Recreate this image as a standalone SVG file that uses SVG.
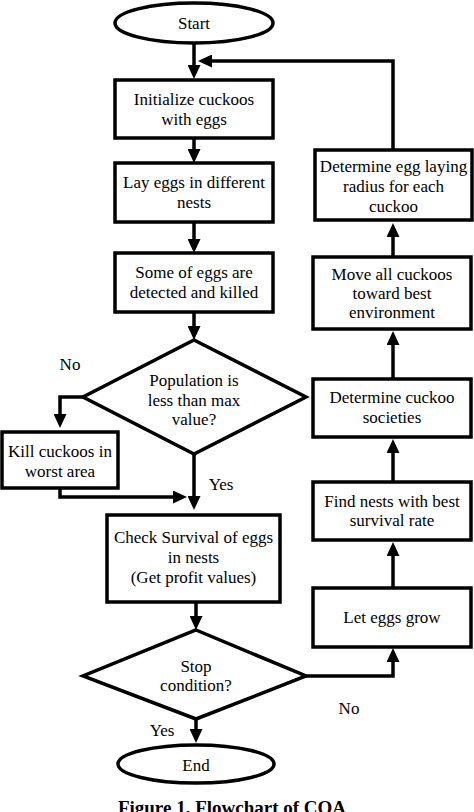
<svg xmlns="http://www.w3.org/2000/svg" width="474" height="812" viewBox="0 0 474 812" font-family="'Liberation Serif', 'Times New Roman', Times, 'DejaVu Serif', serif">
<style>
.n{fill:#fff;stroke:#000;stroke-width:3.5}
.c{fill:none;stroke:#000;stroke-width:3.5;marker-end:url(#ah)}
text{font-family:'Liberation Serif', 'Times New Roman', Times, 'DejaVu Serif', serif;font-size:17px;fill:#000;text-anchor:middle}
.cap{font-weight:bold;font-size:19px}
</style>
<defs>
<marker id="ah" markerUnits="userSpaceOnUse" markerWidth="14" markerHeight="13" refX="10" refY="6.5" orient="auto">
<path d="M0,0 L14,6.5 L0,13 z" fill="#000"/>
</marker>
</defs>
<rect width="474" height="812" fill="#fff"/>
<g id="connectors">
<path class="c" d="M194,44 V75"/>
<path class="c" d="M393,150 V61 H202"/>
<path class="c" d="M194,138 V159"/>
<path class="c" d="M194,222 V249"/>
<path class="c" d="M194,312 V336"/>
<path class="c" d="M83,397 H60 V424"/>
<path class="c" d="M194,454 V506"/>
<path class="c" d="M60,488 V497 H183"/>
<path class="c" d="M196,602 V626"/>
<path class="c" d="M196,719 V739"/>
<path class="c" d="M306,676 H393 V652"/>
<path class="c" d="M393,588 V546"/>
<path class="c" d="M393,482 V443"/>
<path class="c" d="M393,379 V335"/>
<path class="c" d="M393,257 V227"/>
</g>
<g id="start"><ellipse class="n" cx="194" cy="23" rx="79" ry="20"/><text x="194" y="29">Start</text></g>
<g id="init"><rect class="n" x="115" y="80" width="158" height="58"/><text x="194" y="105">Initialize cuckoos</text><text x="194" y="125">with eggs</text></g>
<g id="lay"><rect class="n" x="115" y="163" width="158" height="59"/><text x="194" y="188">Lay eggs in different</text><text x="194" y="208">nests</text></g>
<g id="some"><rect class="n" x="115" y="253" width="158" height="59"/><text x="194" y="278">Some of eggs are</text><text x="194" y="298">detected and killed</text></g>
<g id="population"><path class="n" d="M194,340 L306,397 L194,454 L83,397 Z"/><text x="194" y="386">Population is</text><text x="194" y="405.5">less than max</text><text x="194" y="425">value?</text></g>
<g id="kill"><rect class="n" x="2" y="432" width="116" height="56"/><text x="60" y="457">Kill cuckoos in</text><text x="60" y="477">worst area</text></g>
<g id="check"><rect class="n" x="107" y="515" width="173" height="87"/><text x="193.5" y="543">Check Survival of eggs</text><text x="193.5" y="563">in nests</text><text x="193.5" y="583">(Get profit values)</text></g>
<g id="stop"><path class="n" d="M196,630 L306,676 L196,719 L83,676 Z"/><text x="196" y="672">Stop</text><text x="196" y="691">condition?</text></g>
<g id="end"><ellipse class="n" cx="196" cy="764" rx="78" ry="19"/><text x="196" y="771">End</text></g>
<g id="grow"><rect class="n" x="313" y="588" width="158" height="59"/><text x="392" y="623">Let eggs grow</text></g>
<g id="find"><rect class="n" x="313" y="482" width="158" height="58"/><text x="392" y="507">Find nests with best</text><text x="392" y="526">survival rate</text></g>
<g id="societies"><rect class="n" x="313" y="379" width="158" height="58"/><text x="392" y="403">Determine cuckoo</text><text x="392" y="423">societies</text></g>
<g id="move"><rect class="n" x="313" y="257" width="158" height="72"/><text x="392" y="280">Move all cuckoos</text><text x="392" y="299">toward best</text><text x="392" y="318">environment</text></g>
<g id="radius"><rect class="n" x="315" y="150" width="157" height="70"/><text x="393.5" y="172">Determine egg laying</text><text x="393.5" y="192">radius for each</text><text x="393.5" y="212">cuckoo</text></g>
<g id="labels">
<text x="70" y="370">No</text>
<text x="221" y="490">Yes</text>
<text x="162" y="736">Yes</text>
<text x="349" y="714">No</text>
</g>
<text class="cap" x="232" y="814">Figure 1. Flowchart of COA</text>
</svg>
